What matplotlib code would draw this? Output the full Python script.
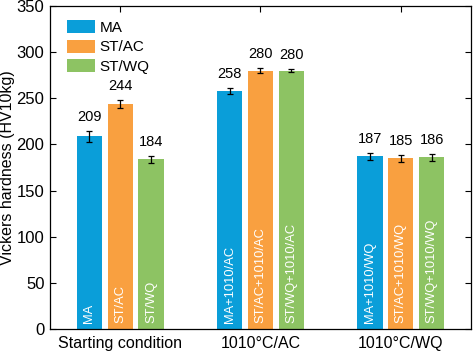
import matplotlib
matplotlib.use("Agg")
import matplotlib.pyplot as plt
import numpy as np

plt.rcParams['font.family'] = ['Liberation Sans', 'DejaVu Sans']

groups = ["Starting condition", "1010°C/AC", "1010°C/WQ"]
series = ["MA", "ST/AC", "ST/WQ"]
values = {
    "MA": [209, 258, 187],
    "ST/AC": [244, 280, 185],
    "ST/WQ": [184, 280, 186],
}
errors = {
    "MA": [6, 3, 4],
    "ST/AC": [4, 3, 4],
    "ST/WQ": [4, 2, 4],
}
bar_labels = {
    "MA": ["MA", "MA+1010/AC", "MA+1010/WQ"],
    "ST/AC": ["ST/AC", "ST/AC+1010/AC", "ST/AC+1010/WQ"],
    "ST/WQ": ["ST/WQ", "ST/WQ+1010/AC", "ST/WQ+1010/WQ"],
}
colors = {"MA": "#0A9ED9", "ST/AC": "#F9A040", "ST/WQ": "#8DC363"}

fig = plt.figure(figsize=(4.74, 3.54), dpi=100)
ax = fig.add_axes([0.1055, 0.0706, 0.888, 0.9124])

x = np.arange(1, len(groups) + 1)
width = 0.18
offsets = [-0.22, 0.0, 0.22]
for s, off in zip(series, offsets):
    xs = x + off
    ax.bar(xs, values[s], width, color=colors[s], label=s, zorder=2)
    ax.errorbar(xs, values[s], yerr=errors[s], fmt='none', ecolor='black',
                elinewidth=0.9, capsize=2.5, capthick=0.9, zorder=3)
    for xi, v, e, lab in zip(xs, values[s], errors[s], bar_labels[s]):
        ax.annotate(str(v), (xi, v + e), xytext=(0, 5), textcoords='offset points',
                    ha='center', va='bottom', fontsize=10.5)
        ax.text(xi, 6, lab, rotation=90, ha='center', va='bottom',
                color='white', fontsize=9.3, zorder=4)

ax.set_xlim(0.5, 3.5)
ax.set_ylim(0, 350)
ax.set_xticks(x)
ax.set_xticklabels(groups, fontsize=11.5)
ax.set_yticks(np.arange(0, 351, 50))
ax.tick_params(axis='y', labelsize=12, pad=4)
ax.tick_params(axis='x', pad=5)
ax.tick_params(direction='in', top=True, right=True, length=4, width=0.8)
ax.set_ylabel("Vickers hardness (HV10kg)", fontsize=11.5)
ax.yaxis.set_label_coords(-0.083, 0.5)
for sp in ax.spines.values():
    sp.set_linewidth(0.9)

ax.legend(loc='upper left', frameon=False, fontsize=11, handlelength=1.85,
          handleheight=0.95, handletextpad=0.3, labelspacing=0.3,
          borderaxespad=0.0, bbox_to_anchor=(0.025, 0.975))

fig.savefig("out.png", dpi=100)
